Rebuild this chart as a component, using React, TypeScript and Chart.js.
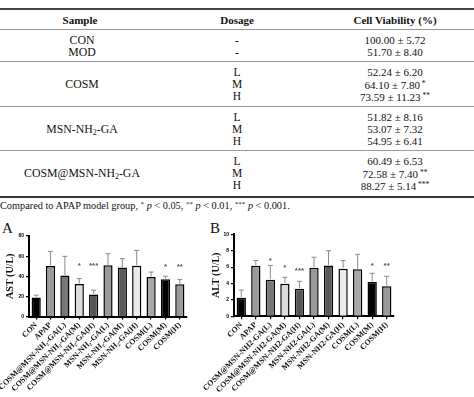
import React, { useEffect, useRef } from 'react';
import { Chart, registerables } from 'chart.js';
Chart.register(...registerables);

// ---------- table data ----------
const tableSamples = ['CON', 'MOD', 'COSM', 'MSN-NH2-GA', 'COSM@MSN-NH2-GA'];
const tableDosages = [['-'], ['-'], ['L', 'M', 'H'], ['L', 'M', 'H'], ['L', 'M', 'H']];
const tableMeans = [['100.00'], ['51.70'], ['52.24', '64.10', '73.59'], ['51.82', '53.07', '54.95'], ['60.49', '72.58', '88.27']];
const tableSDs = [['5.72'], ['8.40'], ['6.20', '7.80', '11.23'], ['8.16', '7.32', '6.41'], ['6.53', '7.40', '5.14']];
const tableStars = [[''], [''], ['', '*', '**'], ['', '', ''], ['', '**', '***']];

// ---------- chart data ----------
const categoriesA = ['CON', 'APAP', 'COSM@MSN-NH₂-GA(L)', 'COSM@MSN-NH₂-GA(M)', 'COSM@MSN-NH₂-GA(H)', 'MSN-NH₂-GA(L)', 'MSN-NH₂-GA(M)', 'MSN-NH₂-GA(H)', 'COSM(L)', 'COSM(M)', 'COSM(H)'];
const categoriesB = ['CON', 'APAP', 'COSM@MSN-NH2-GA(L)', 'COSM@MSN-NH2-GA(M)', 'COSM@MSN-NH2-GA(H)', 'MSN-NH2-GA(L)', 'MSN-NH2-GA(M)', 'MSN-NH2-GA(H)', 'COSM(L)', 'COSM(M)', 'COSM(H)'];
const astMeans = [19, 50.2, 40.7, 32.4, 21.9, 50.9, 48.6, 50.5, 39.3, 37, 32.1];
const astSD = [2.2, 14.5, 19.1, 5.3, 4.3, 11.5, 8.9, 15.2, 4.9, 3, 4.6];
const astStars = ['', '', '', '*', '***', '', '', '', '', '*', '**'];
const astStarLevel = [0, 0, 0, 52, 52, 0, 0, 0, 0, 51.5, 51.5];
const altMeans = [2.27, 6.17, 4.46, 3.98, 3.37, 5.93, 6.2, 5.8, 5.73, 4.18, 3.66];
const altSD = [0.93, 0.63, 1.74, 0.77, 0.9, 1.27, 1.8, 1.0, 1.83, 1.06, 1.22];
const altStars = ['', '', '*', '*', '***', '', '', '', '', '*', '**'];
const altStarLevel = [0, 0, 7.0, 6.1, 5.8, 0, 0, 0, 0, 6.4, 6.4];
const astTicks = { max: 80, step: 20 };
const altTicks = { max: 10, step: 2 };

const barColors = ['#000000', '#9a9a9a', '#777777', '#dcdcdc', '#555555', '#9a9a9a', '#595959', '#ebebeb', '#a8a8a8', '#000000', '#9a9a9a'];

function makeErrPlugin(means: number[], sd: number[], stars: string[], levels: number[]) {
  return {
    id: 'errbars',
    afterDatasetsDraw(chart: any) {
      const ctx = chart.ctx;
      const meta = chart.getDatasetMeta(0);
      const ys = chart.scales.y;
      ctx.save();
      meta.data.forEach((bar: any, i: number) => {
        const x = bar.x;
        const y0 = ys.getPixelForValue(means[i]);
        const y1 = ys.getPixelForValue(means[i] + sd[i]);
        ctx.strokeStyle = '#8a8a8a';
        ctx.lineWidth = 1;
        ctx.beginPath();
        ctx.moveTo(x, y0 - 0.5);
        ctx.lineTo(x, y1);
        ctx.moveTo(x - 2.5, y1);
        ctx.lineTo(x + 2.5, y1);
        ctx.stroke();
        if (stars[i]) {
          ctx.fillStyle = '#555';
          ctx.font = 'bold 8px "Liberation Sans", Arial';
          ctx.textAlign = 'center';
          ctx.textBaseline = 'middle';
          ctx.fillText(stars[i], x, ys.getPixelForValue(levels[i]) + 2);
        }
      });
      ctx.restore();
    },
  };
}

type PanelProps = {
  labels: string[];
  means: number[];
  sd: number[];
  stars: string[];
  levels: number[];
  ticks: { max: number; step: number };
  title: string;
  left: number;
  width: number;
  padTop: number;
  padRight: number;
  yW: number;
  xH: number;
  titlePad: number;
};

function Panel(p: PanelProps) {
  const ref = useRef<HTMLCanvasElement>(null);
  useEffect(() => {
    if (!ref.current) return;
    const chart = new Chart(ref.current, {
      type: 'bar',
      data: {
        labels: p.labels,
        datasets: [
          {
            data: p.means,
            backgroundColor: barColors,
            borderColor: '#000',
            borderWidth: 1.5,
            barPercentage: 0.64,
            categoryPercentage: 1,
          },
        ],
      },
      options: {
        animation: false,
        responsive: false,
        maintainAspectRatio: false,
        layout: { padding: { left: 0, top: p.padTop, right: p.padRight, bottom: 0 } },
        plugins: { legend: { display: false }, tooltip: { enabled: false } },
        scales: {
          x: {
            grid: { display: true, drawOnChartArea: false, offset: false, tickLength: 3, color: '#000', lineWidth: 1.2 },
            border: { color: '#000', width: 2 },
            ticks: {
              autoSkip: false,
              minRotation: 45,
              maxRotation: 45,
              padding: 1,
              color: '#111',
              font: { family: '"Liberation Serif", "DejaVu Serif", serif', size: 8, weight: 'bold' },
            },
            afterFit: (s: any) => {
              s.height = p.xH;
            },
          },
          y: {
            min: 0,
            max: p.ticks.max,
            ticks: {
              stepSize: p.ticks.step,
              padding: 2,
              color: '#000',
              font: { family: '"Liberation Sans", Arial', size: 5, weight: 'bold' },
            },
            grid: { drawOnChartArea: false, tickLength: 3, color: '#000', lineWidth: 1.2 },
            border: { color: '#000', width: 2 },
            title: {
              display: true,
              text: p.title,
              color: '#111',
              font: { family: '"Liberation Serif", serif', size: 10, weight: 'bold' },
              padding: { top: p.titlePad, bottom: 0 },
            },
            afterFit: (s: any) => {
              s.width = p.yW;
            },
          },
        },
      } as any,
      plugins: [makeErrPlugin(p.means, p.sd, p.stars, p.levels)],
    });
    return () => chart.destroy();
  }, []);
  return (
    <canvas
      ref={ref}
      width={p.width}
      height={171}
      style={{ position: 'absolute', left: p.left, top: 226, width: p.width, height: 171 }}
    />
  );
}

const serif = '"Liberation Serif", "DejaVu Serif", serif';

function Table() {
  const colS = 82;
  const colD = 237;
  const colV = 395;
  const groupLines = [29, 61, 106, 150];
  const items: React.ReactNode[] = [];
  const text = (key: string, cx: number, cy: number, content: React.ReactNode, bold = false, size = 11) => (
    <div
      key={key}
      style={{
        position: 'absolute',
        left: cx - 120,
        width: 240,
        top: cy - 7,
        height: 14,
        lineHeight: '14px',
        textAlign: 'center',
        fontSize: size,
        fontWeight: bold ? 'bold' : 'normal',
        whiteSpace: 'nowrap',
      }}
    >
      {content}
    </div>
  );
  items.push(text('hs', colS - 2, 20, 'Sample', true));
  items.push(text('hd', colD, 20, 'Dosage', true));
  items.push(text('hv', colV, 20, 'Cell Viability (%)', true));
  const groupStart = [29, 61, 106, 150];
  const grouping = [[0, 1], [2], [3], [4]];
  grouping.forEach((g, gIdx) => {
    let rowIdx = 0;
    const start = groupStart[gIdx] + 10.5;
    g.forEach((si) => {
      const n = tableDosages[si].length;
      const midY = start + 12 * (rowIdx + (n - 1) / 2);
      const name = tableSamples[si];
      const parts = name.split('NH2');
      const nameNode =
        parts.length > 1 ? (
          <>
            {parts[0]}NH<sub style={{ fontSize: 8, verticalAlign: '-2px' }}>2</sub>
            {parts[1]}
          </>
        ) : (
          name
        );
      items.push(text('s' + si, colS, midY, nameNode, false, 11.8));
      tableDosages[si].forEach((d, k) => {
        const y = start + 12 * (rowIdx + k);
        items.push(text('d' + si + k, colD, y, d, false, 11.5));
        const st = tableStars[si][k];
        items.push(
          text(
            'v' + si + k,
            colV,
            y,
            <>
              {tableMeans[si][k]} ± {tableSDs[si][k]}
              {st ? <sup style={{ fontSize: 7.5, verticalAlign: '3px' }}> {st}</sup> : null}
            </>
          )
        );
      });
      rowIdx += n;
    });
  });
  const lines = [
    { y: 8, h: 2, c: '#444' },
    ...groupLines.map((y) => ({ y, h: 1, c: '#9a9a9a' })),
    { y: 196, h: 1.5, c: '#333' },
  ];
  lines.forEach((l, i) =>
    items.push(
      <div key={'l' + i} style={{ position: 'absolute', left: 0, width: 474, top: l.y, height: l.h, background: l.c }} />
    )
  );
  items.push(
    <div
      key="foot"
      style={{ position: 'absolute', left: 0, top: 197, height: 14, lineHeight: '14px', fontSize: 10.3, whiteSpace: 'nowrap' }}
    >
      Compared to APAP model group, <sup style={{ fontSize: 7, verticalAlign: '3px' }}>*</sup> <i>p</i> &lt; 0.05,{' '}
      <sup style={{ fontSize: 7, verticalAlign: '3px' }}>**</sup> <i>p</i> &lt; 0.01,{' '}
      <sup style={{ fontSize: 7, verticalAlign: '3px' }}>***</sup> <i>p</i> &lt; 0.001.
    </div>
  );
  return <>{items}</>;
}

export default function App() {
  return (
    <div
      style={{
        position: 'absolute',
        left: 0,
        top: 0,
        width: 474,
        height: 397,
        background: '#fff',
        fontFamily: serif,
        color: '#111',
        overflow: 'hidden',
      }}
    >
      <Table />
      <div style={{ position: 'absolute', left: 2, top: 220, fontSize: 15, lineHeight: '16px' }}>A</div>
      <div style={{ position: 'absolute', left: 210, top: 220, fontSize: 15, lineHeight: '16px' }}>B</div>
      <Panel
        labels={categoriesA}
        means={astMeans}
        sd={astSD}
        stars={astStars}
        levels={astStarLevel}
        ticks={astTicks}
        title="AST (U/L)"
        left={0}
        width={237}
        padTop={10}
        padRight={50}
        yW={29}
        xH={80.5}
        titlePad={4}
      />
      <Panel
        labels={categoriesB}
        means={altMeans}
        sd={altSD}
        stars={altStars}
        levels={altStarLevel}
        ticks={altTicks}
        title="ALT (U/L)"
        left={200}
        width={274}
        padTop={8.3}
        padRight={80}
        yW={34}
        xH={80.7}
        titlePad={10}
      />
    </div>
  );
}
